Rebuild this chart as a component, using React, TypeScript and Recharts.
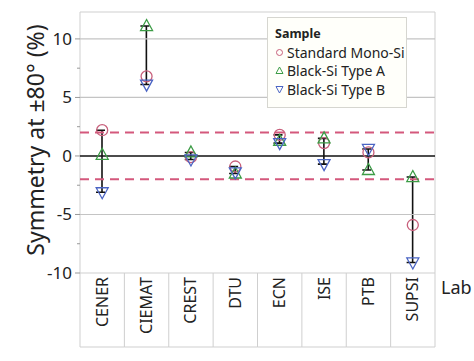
import React from "react";
import {
  ComposedChart,
  XAxis,
  YAxis,
  Bar,
  Scatter,
  ReferenceLine,
  ReferenceArea,
} from "recharts";

const labs = ["CENER", "CIEMAT", "CREST", "DTU", "ECN", "ISE", "PTB", "SUPSI"];
const standardMono = [2.2, 6.8, -0.1, -0.9, 1.8, 1.1, 0.3, -5.9];
const blackTypeA = [0.1, 11.1, 0.3, -1.5, 1.3, 1.5, -1.2, -1.8];
const blackTypeB = [-3.1, 6.1, -0.3, -1.4, 1.1, -0.7, 0.6, -9.1];
const yTicks = [-10, -7.5, -5, -2.5, 0, 2.5, 5, 7.5, 10];
const limitLines = [2, -2];
const gridLines = [10, 5, -5];

const FONT = "'Noto Sans', 'Open Sans', sans-serif";
const RED = "#c8607c";
const GREEN = "#3c9c46";
const BLUE = "#4a64c4";

// layout of the plot frame
const AXIS_X = 80;
const PLOT_BOTTOM = 273;
const BOX_BOTTOM = 347;
const HALF_BAND = (435 - 80) / 16;

const data = labs.map((lab, i) => ({
  lab,
  mono: standardMono[i],
  typeA: blackTypeA[i],
  typeB: blackTypeB[i],
  range: [
    Math.min(standardMono[i], blackTypeA[i], blackTypeB[i]),
    Math.max(standardMono[i], blackTypeA[i], blackTypeB[i]),
  ],
}));

const Circle = (props: any) => (
  <circle cx={props.cx} cy={props.cy} r={5.5} fill="none" stroke={RED} strokeWidth={1.3} />
);

const TriUp = (props: any) => {
  const { cx, cy } = props;
  return (
    <path
      d={`M${cx},${cy - 6.5} L${cx + 6},${cy + 4.5} L${cx - 6},${cy + 4.5} Z`}
      fill="none"
      stroke={GREEN}
      strokeWidth={1.3}
    />
  );
};

const TriDown = (props: any) => {
  const { cx, cy } = props;
  return (
    <path
      d={`M${cx},${cy + 6.5} L${cx + 6},${cy - 4.5} L${cx - 6},${cy - 4.5} Z`}
      fill="none"
      stroke={BLUE}
      strokeWidth={1.3}
    />
  );
};

const RangeShape = (props: any) => {
  const { x, y, width, height } = props;
  const cx = x + width / 2;
  const top = Math.min(y, y + height);
  const bot = Math.max(y, y + height);
  return (
    <g stroke="#111" strokeWidth={1.6}>
      <line x1={cx} y1={top} x2={cx} y2={bot} />
      <line x1={cx - 6} y1={top} x2={cx + 3} y2={top} />
      <line x1={cx - 6} y1={bot} x2={cx + 3} y2={bot} />
    </g>
  );
};

const LabTick = (props: any) => {
  const { x, payload, index } = props;
  return (
    <g>
      {index === 0 && (
        <line x1={x - HALF_BAND} y1={PLOT_BOTTOM} x2={x - HALF_BAND} y2={BOX_BOTTOM} stroke="#cfcfcf" />
      )}
      <line x1={x + HALF_BAND} y1={PLOT_BOTTOM} x2={x + HALF_BAND} y2={BOX_BOTTOM} stroke="#cfcfcf" />
      <line x1={x - HALF_BAND} y1={BOX_BOTTOM} x2={x + HALF_BAND} y2={BOX_BOTTOM} stroke="#cfcfcf" />
      <text
        x={x + 5.5}
        y={PLOT_BOTTOM + 4}
        transform={`rotate(-90 ${x + 5.5} ${PLOT_BOTTOM + 4})`}
        textAnchor="end"
        fontSize={16}
        fontFamily={FONT}
        fill="#222"
      >
        {payload.value}
      </text>
    </g>
  );
};

const ValueTick = (props: any) => {
  const { y, payload } = props;
  const major = payload.value % 5 === 0;
  return (
    <g>
      <line x1={major ? AXIS_X - 5 : AXIS_X - 3} y1={y} x2={AXIS_X} y2={y} stroke="#999" />
      {major && (
        <text x={AXIS_X - 8} y={y} dy="0.35em" textAnchor="end" fontSize={17} fontFamily={FONT} fill="#222">
          {payload.value}
        </text>
      )}
    </g>
  );
};

const LegendBox = () => {
  const row = { display: "flex", alignItems: "center", height: 18.5, whiteSpace: "nowrap" } as React.CSSProperties;
  const mark = (kind: string, color: string) => (
    <svg width={9} height={9} style={{ marginRight: 3, flexShrink: 0 }}>
      {kind === "c" && <circle cx={4.5} cy={4.5} r={3} fill="none" stroke={color} />}
      {kind === "u" && <path d="M4.5,1 L8,7.5 L1,7.5 Z" fill="none" stroke={color} />}
      {kind === "d" && <path d="M4.5,8 L8,1.5 L1,1.5 Z" fill="none" stroke={color} />}
    </svg>
  );
  return (
    <div
      style={{
        position: "absolute",
        left: 267,
        top: 17,
        width: 140,
        height: 91,
        border: "1px solid #d6d6d0",
        background: "#fffffa",
        padding: "7px 4px 6px 7px",
        fontFamily: FONT,
        fontSize: 14,
        color: "#222",
        boxSizing: "border-box",
      }}
    >
      <div style={{ fontWeight: "bold", fontSize: 12.5, height: 18 }}>Sample</div>
      <div style={row}>{mark("c", RED)}Standard Mono-Si</div>
      <div style={row}>{mark("u", GREEN)}Black-Si Type A</div>
      <div style={row}>{mark("d", BLUE)}Black-Si Type B</div>
    </div>
  );
};

export default function App() {
  return (
    <div style={{ position: "absolute", left: 0, top: 0, width: 474, height: 361, background: "#fff" }}>
      <ComposedChart width={474} height={361} data={data} margin={{ top: 12, right: 39, left: 0, bottom: 14 }}>
        <ReferenceArea y1={-10} y2={12.3} fill="none" stroke="#cfcfcf" ifOverflow="visible" />
        {gridLines.map((v) => (
          <ReferenceLine key={v} y={v} stroke="#c4c4c4" strokeWidth={1.2} />
        ))}
        {limitLines.map((v) => (
          <ReferenceLine key={v} y={v} stroke="#d4587c" strokeWidth={2} strokeDasharray="9 6" />
        ))}
        <ReferenceLine y={0} stroke="#111" strokeWidth={1.6} />
        <XAxis
          dataKey="lab"
          height={74}
          axisLine={false}
          tickLine={false}
          interval={0}
          tick={<LabTick />}
          label={(p: any) => (
            <text
              x={p.viewBox.x + p.viewBox.width + 6}
              y={p.viewBox.y + 21}
              fontSize={18}
              fontFamily={FONT}
              fill="#222"
            >
              Lab
            </text>
          )}
        />
        <YAxis
          width={80}
          domain={[-10, 12.3]}
          ticks={yTicks}
          allowDataOverflow
          axisLine={false}
          tickLine={false}
          interval={0}
          tick={<ValueTick />}
          label={() => (
            <text
              x={44}
              y={140}
              transform="rotate(-90 44 140)"
              textAnchor="middle"
              fontSize={23}
              fontFamily={FONT}
              fill="#222"
            >
              Symmetry at ±80° (%)
            </text>
          )}
        />
        <Bar dataKey="range" barSize={10} shape={<RangeShape />} isAnimationActive={false} />
        <Scatter dataKey="mono" shape={<Circle />} isAnimationActive={false} />
        <Scatter dataKey="typeA" shape={<TriUp />} isAnimationActive={false} />
        <Scatter dataKey="typeB" shape={<TriDown />} isAnimationActive={false} />
      </ComposedChart>
      <LegendBox />
    </div>
  );
}
